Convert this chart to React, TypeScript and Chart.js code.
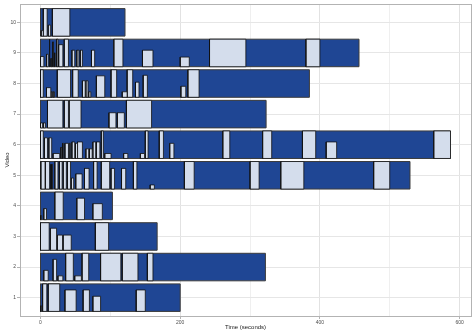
import { useEffect, useRef } from 'react';
import { Chart, registerables } from 'chart.js';

Chart.register(...registerables);

// ---- data ----
const videos = [1, 2, 3, 4, 5, 6, 7, 8, 9, 10];
const videoEnds = [200, 322, 167, 103, 529, 587, 323, 385, 456, 121];

// light segments per video: [start s, end s, relative height 0..1]
const segs1 = [[0, 1.5, 0.2], [3, 9, 1], [11, 27.5, 1], [35, 51, 0.78], [61, 70, 0.78], [75, 86, 0.55], [137, 150, 0.78]];
const segs2 = [[4.7, 11, 0.38], [18, 23, 0.78], [25, 32, 0.18], [36, 47, 1], [49, 58.5, 0.18], [59.5, 69, 1], [86, 115, 1], [117, 139.5, 1], [153, 161, 1]];
const segs3 = [[0, 12.4, 1], [14, 23, 0.8], [24, 31.5, 0.55], [32.4, 44, 0.55], [78.5, 97.5, 1]];
const segs4 = [[0, 1.5, 0.15], [4.7, 8.6, 0.4], [20.5, 32.5, 1], [52, 63, 0.78], [75, 88.5, 0.58]];
const segs5 = [[0.5, 6.5, 1], [7, 13, 1], [14, 15, 0.9], [16, 17, 0.9], [20.5, 25, 1], [27, 31, 1], [32.5, 37, 1], [38.5, 43, 1], [44, 47.5, 0.4], [50.5, 59.5, 0.55], [63, 69.5, 0.75], [76, 81, 1], [87, 99, 1], [101, 106, 0.75], [116, 122, 0.75], [133, 138, 1], [157, 163, 0.15], [206, 220, 1], [300, 313, 1], [344, 377, 1], [477, 500, 1]];
const segs6 = [[0, 4, 1], [5.7, 10, 0.75], [12, 16, 0.75], [18, 27.5, 0.18], [29, 30.5, 0.4], [31.5, 33, 0.55], [35, 40, 0.55], [41, 43, 0.55], [45, 49, 0.6], [50, 53, 0.55], [53, 60, 0.6], [65, 69, 0.35], [70, 74, 0.35], [75, 79, 0.6], [80, 85, 0.6], [87, 90, 1], [92, 101, 0.18], [119, 125, 0.18], [143, 149, 0.18], [150, 154, 1], [170, 176, 1], [185, 191, 0.55], [261, 271, 1], [318, 331, 1], [375, 394, 1], [409, 424, 0.6], [563, 587, 1]];
const segs7 = [[0, 3, 0.18], [4, 7, 0.18], [10, 32, 1], [34, 40, 1], [41, 58, 1], [98, 108, 0.55], [110, 120, 0.55], [123, 159, 1]];
const segs8 = [[0, 4, 1], [8.6, 14.7, 0.35], [15, 17, 0.2], [18, 20, 0.2], [24, 43, 1], [46, 54, 1], [60, 64, 0.6], [65, 68, 0.6], [69, 72, 0.2], [80, 92, 0.78], [101, 109, 1], [117, 124, 0.2], [124, 132, 1], [136, 141, 0.55], [147, 153, 0.8], [201, 208, 0.4], [211, 227, 1]];
const segs9 = [[0, 4.8, 0.37], [8.6, 11, 0.45], [12.5, 13.5, 1], [15, 16, 0.3], [17.5, 18.5, 0.9], [20, 21, 0.5], [23, 25, 1], [26, 32, 0.8], [34, 40, 1], [45, 49, 0.6], [52, 55, 0.6], [57, 60, 0.6], [73, 77.5, 0.6], [105, 118, 1], [146, 161, 0.6], [200, 213, 0.35], [242, 294, 1], [380, 400, 1]];
const segs10 = [[1, 4, 0.2], [4, 9.5, 1], [11, 14.5, 0.4], [17, 42, 1]];
const segmentsByVideo = [segs1, segs2, segs3, segs4, segs5, segs6, segs7, segs8, segs9, segs10];

const xTickValues = [0, 100, 200, 300, 400, 500, 600];
const xTickLabels = ['0', '', '200', '', '400', '', '600'];

// ---- styles ----
const DARK = '#1f4694';
const LIGHT = '#d4ddec';
const HALF = 0.45;
const FONT = 'Liberation Sans';
const FRAME = '#b3b3b3';

function rectPoints(x0: number, x1: number, y0: number, y1: number) {
  return [
    { x: x0, y: y0 },
    { x: x1, y: y0 },
    { x: x1, y: y1 },
    { x: x0, y: y1 },
    { x: x0, y: y0 },
  ];
}

export default function App() {
  const ref = useRef<HTMLCanvasElement | null>(null);

  useEffect(() => {
    if (!ref.current) return;
    const maxEnd = Math.max(...videoEnds);
    const xMin = -maxEnd * 0.05;
    const xMax = maxEnd * 1.05;

    const datasets: any[] = [];
    const common = {
      type: 'line',
      fill: 'shape',
      pointRadius: 0,
      pointHoverRadius: 0,
      tension: 0,
      borderJoinStyle: 'miter',
      borderCapStyle: 'butt',
      xAxisID: 'x',
      yAxisID: 'y',
    };
    videos.forEach((v, i) => {
      datasets.push({
        ...common,
        label: 'video ' + v,
        data: rectPoints(0, videoEnds[i], v - HALF, v + HALF),
        backgroundColor: DARK,
        borderColor: '#3c3c3c',
        borderWidth: 1,
        order: 2,
      });
    });
    videos.forEach((v, i) => {
      segmentsByVideo[i].forEach((s, j) => {
        datasets.push({
          ...common,
          label: 'v' + v + 's' + j,
          data: rectPoints(s[0], s[1], v - HALF, v - HALF + 2 * HALF * s[2]),
          backgroundColor: LIGHT,
          borderColor: '#111111',
          borderWidth: 0.8,
          order: 1,
        });
      });
    });

    const chart = new Chart(ref.current, {
      type: 'line',
      data: { datasets },
      options: {
        animation: false,
        responsive: false,
        events: [],
        layout: { padding: { top: 4, right: 3, left: 0, bottom: 0 } },
        plugins: { legend: { display: false }, tooltip: { enabled: false } },
        scales: {
          x: {
            type: 'linear',
            position: 'bottom',
            min: xMin,
            max: xMax,
            afterBuildTicks: (s: any) => {
              s.ticks = xTickValues.map((v) => ({ value: v }));
            },
            afterFit: (s: any) => {
              s.height = 19;
            },
            ticks: {
              autoSkip: false,
              maxRotation: 0,
              padding: 1,
              color: '#4d4d4d',
              font: { family: FONT, size: 5 },
              callback: (v: any) => {
                const k = xTickValues.indexOf(Number(v));
                return k >= 0 ? xTickLabels[k] : '';
              },
            },
            grid: {
              color: (c: any) => (c.tick && c.tick.value % 200 === 0 ? '#e2e2e2' : '#efefef'),
              tickColor: (c: any) => (c.tick && c.tick.value % 200 === 0 ? FRAME : 'rgba(0,0,0,0)'),
              tickLength: 3,
              lineWidth: 1,
            },
            border: { display: true, color: FRAME, width: 1 },
            title: {
              display: true,
              text: 'Time (seconds)',
              color: '#1a1a1a',
              font: { family: FONT, size: 6 },
              padding: { top: 0, bottom: 4 },
            },
          },
          y: {
            type: 'linear',
            position: 'left',
            min: 0.4,
            max: 10.6,
            afterBuildTicks: (s: any) => {
              s.ticks = videos.map((v) => ({ value: v }));
            },
            afterFit: (s: any) => {
              s.width = 20;
            },
            ticks: {
              autoSkip: false,
              padding: 1,
              color: '#4d4d4d',
              font: { family: FONT, size: 5 },
              callback: (v: any) => String(v),
            },
            grid: { color: '#e6e6e6', tickColor: FRAME, tickLength: 3, lineWidth: 1 },
            border: { display: true, color: FRAME, width: 1 },
            title: {
              display: true,
              text: 'Video',
              color: '#1a1a1a',
              font: { family: FONT, size: 6 },
              padding: { top: 4, bottom: 0 },
            },
          },
          x2: {
            type: 'linear',
            position: 'top',
            min: xMin,
            max: xMax,
            ticks: { display: false },
            grid: { display: true, color: 'rgba(0,0,0,0)', drawTicks: false },
            border: { display: true, color: FRAME, width: 1 },
            afterFit: (s: any) => {
              s.height = 0;
            },
          },
          y2: {
            type: 'linear',
            position: 'right',
            min: 0.4,
            max: 10.6,
            ticks: { display: false },
            grid: { display: true, color: 'rgba(0,0,0,0)', drawTicks: false },
            border: { display: true, color: FRAME, width: 1 },
            afterFit: (s: any) => {
              s.width = 0;
            },
          },
        },
      } as any,
    });
    return () => chart.destroy();
  }, []);

  return (
    <div style={{ position: 'absolute', left: 0, top: 0, width: 474, height: 335, background: '#fff' }}>
      <canvas ref={ref} width={474} height={335} />
    </div>
  );
}
